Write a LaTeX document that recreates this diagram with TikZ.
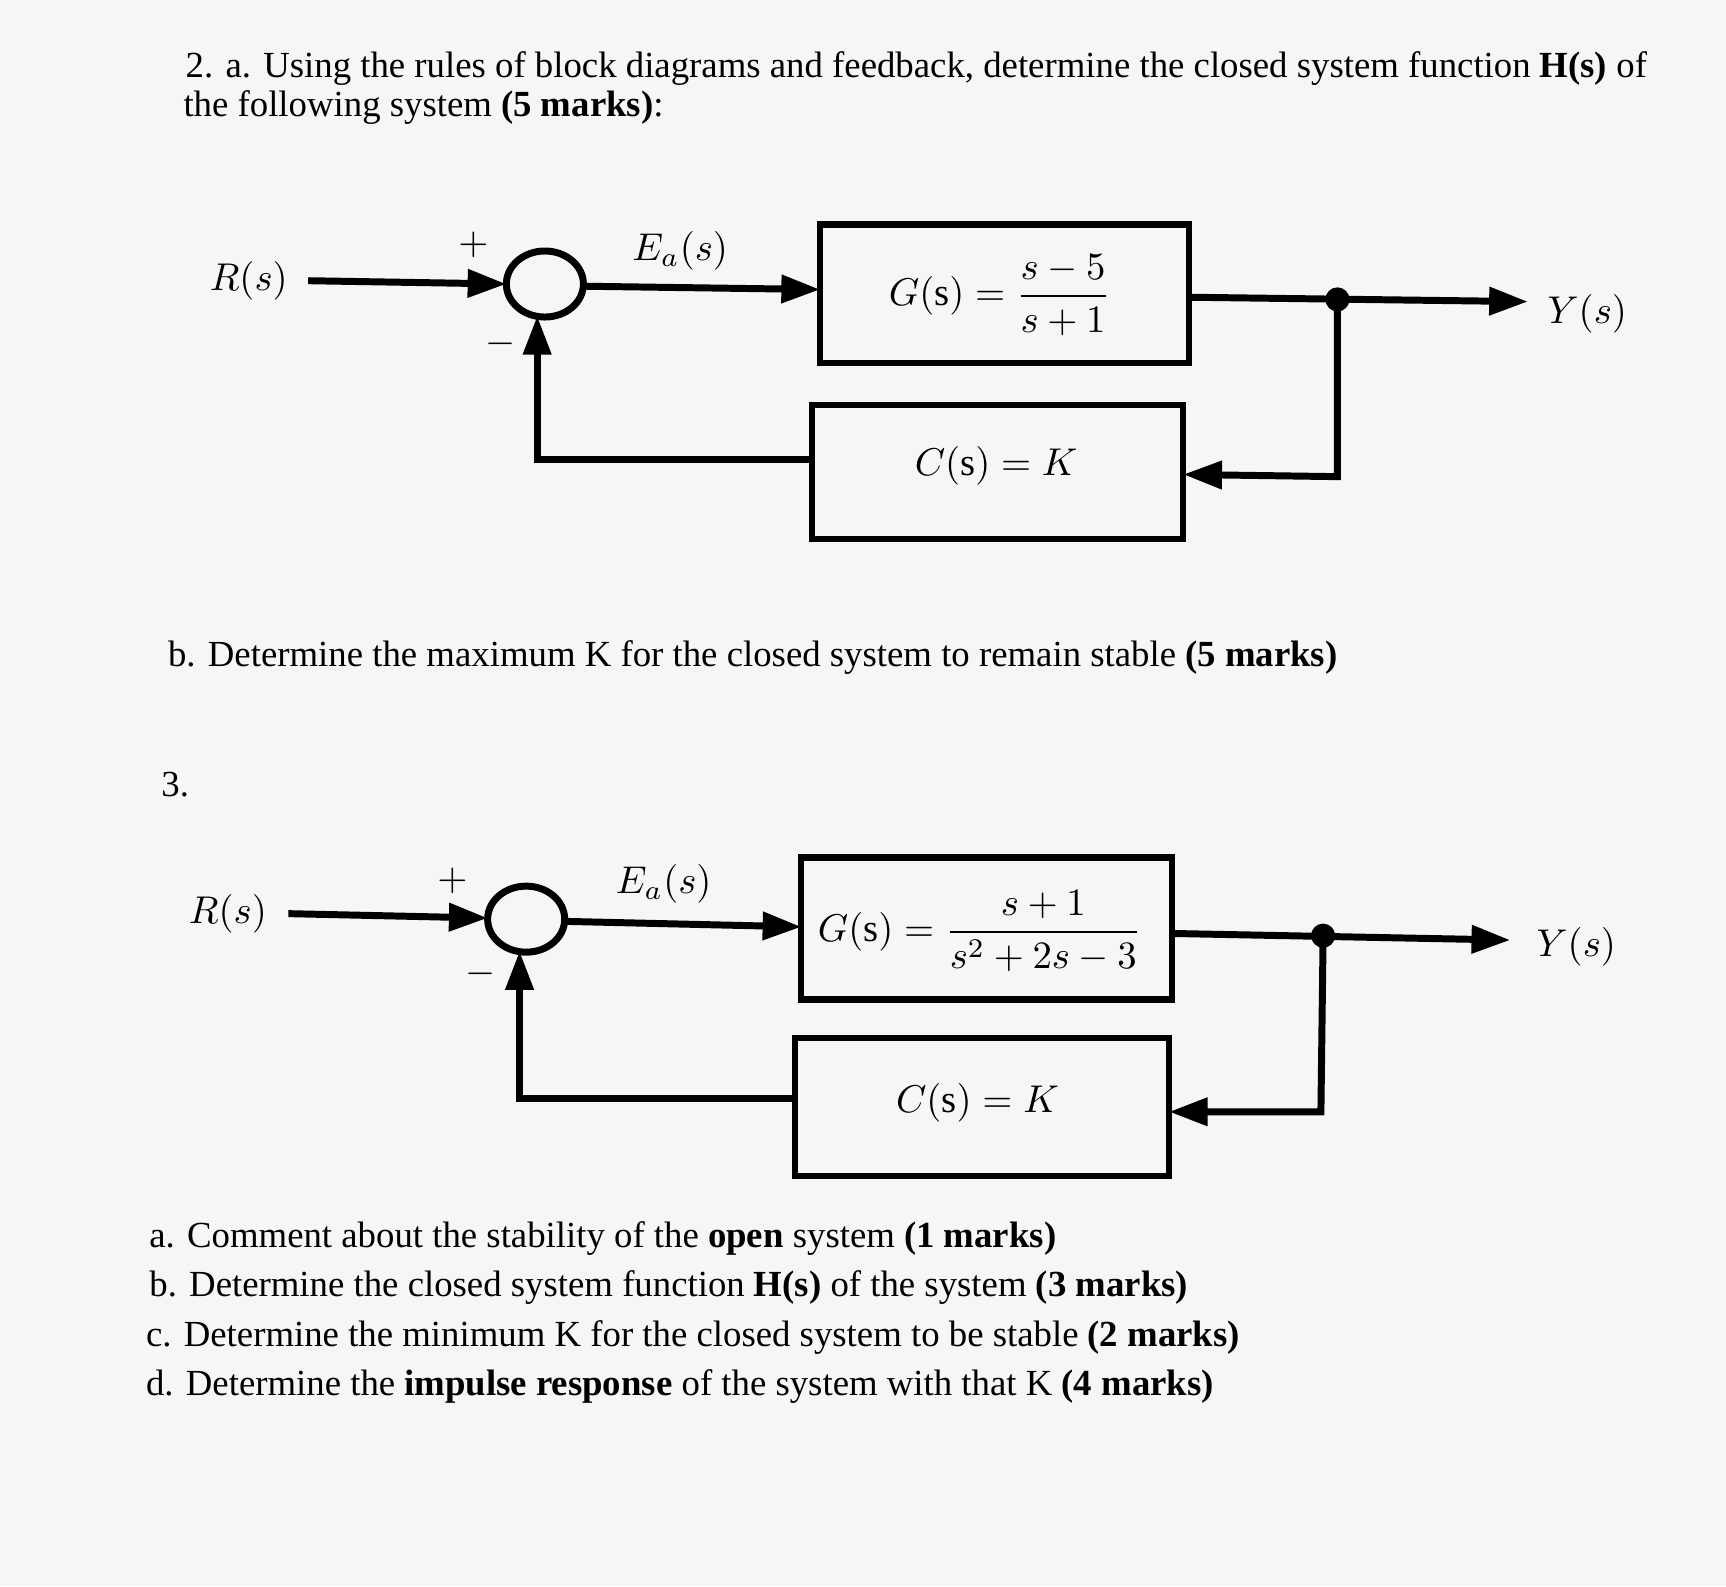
\documentclass[tikz,border=0pt]{standalone}
\usepackage{fontspec}
\setmainfont{Liberation Serif}
\usetikzlibrary{arrows.meta}
\tikzset{
 txt/.style={anchor=west,inner sep=0pt,font=\fontsize{9.5pt}{11pt}\selectfont},
 lbl/.style={inner sep=0pt,font=\fontsize{10pt}{12pt}\selectfont},
 sig/.style={line width=1.8pt},
 arr/.style={sig,-{Triangle[length=10pt,width=7pt]}},
 dot/.style={circle,fill,inner sep=2.2pt}
}
\begin{document}
\begin{tikzpicture}[x=0.01cm,y=-0.01cm]
\fill[gray!7] (0,0) rectangle (1568,1441);
\useasboundingbox (0,0) rectangle (1568,1441);
\node[txt] (t1) at (168,62) {2. a. Using the rules of block diagrams and feedback, determine the closed system function \textbf{H(s)} of};
\node[txt] (t2) at (166,98) {the following system \textbf{(5 marks)}:};
% diagram 1
\node[lbl] (r1) at (226,255) {$R(s)$};
\draw[sig] (495,258) ellipse (35 and 30);
\node[lbl] at (430,222) {$+$};
\node[lbl] at (455,312) {$-$};
\node[lbl] (e1) at (618,228) {$E_a(s)$};
\draw[line width=1.6pt] (745,204) rectangle (1080,330);
\node[lbl] at (908,268) {$G(\mathrm{s})=\displaystyle\frac{s-5}{s+1}$};
\draw[line width=1.6pt] (738,368) rectangle (1075,490);
\node[lbl] (c1) at (905,423) {$C(\mathrm{s})=K$};
\node[lbl] (y1) at (1442,285) {$Y(s)$};
\draw[arr] (280,255) -- (460,258);
\draw[arr] (530,260) -- (745,263);
\draw[arr] (1080,270) -- (1388,274);
\node[dot] (d1) at (1215,272) {};
\draw[arr] (d1.center) -- (1215,433) -- (1075,431);
\draw[arr] (738,417) -- (488,417) -- (488,287);
% question b
\node[txt] at (152,597) {b. Determine the maximum K for the closed system to remain stable \textbf{(5 marks)}};
\node[txt] at (146,713) {3.};
% diagram 2
\node[lbl] (r2) at (207,830) {$R(s)$};
\draw[sig] (478,835) ellipse (35 and 30);
\node[lbl] at (411,800) {$+$};
\node[lbl] at (437,885) {$-$};
\node[lbl] (e2) at (603,803) {$E_a(s)$};
\draw[line width=1.6pt] (728,779) rectangle (1065,908);
\node[lbl] at (890,846) {$G(\mathrm{s})=\displaystyle\frac{s+1}{s^2+2s-3}$};
\draw[line width=1.6pt] (722,943) rectangle (1062,1068);
\node[lbl] (c2) at (888,1002) {$C(\mathrm{s})=K$};
\node[lbl] (y2) at (1432,860) {$Y(s)$};
\draw[arr] (262,830) -- (443,834);
\draw[arr] (513,837) -- (728,842);
\draw[arr] (1065,848) -- (1372,854);
\node[dot] (d2) at (1202,850) {};
\draw[arr] (d2.center) -- (1200,1010) -- (1062,1010);
\draw[arr] (722,998) -- (472,998) -- (472,864);
% bottom list
\node[txt] at (135,1125) {a. Comment about the stability of the \textbf{open} system \textbf{(1 marks)}};
\node[txt] at (135,1170) {b. Determine the closed system function \textbf{H(s)} of the system \textbf{(3 marks)}};
\node[txt] at (132,1215) {c. Determine the minimum K for the closed system to be stable \textbf{(2 marks)}};
\node[txt] at (132,1260) {d. Determine the \textbf{impulse response} of the system with that K \textbf{(4 marks)}};
\end{tikzpicture}
\end{document}
